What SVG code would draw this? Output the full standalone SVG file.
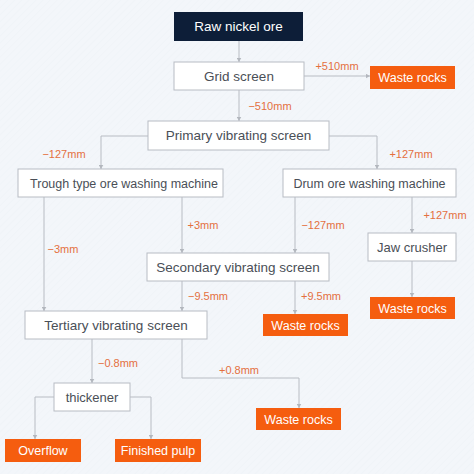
<svg xmlns="http://www.w3.org/2000/svg" width="474" height="474" viewBox="0 0 474 474">
<defs>
<marker id="arr" markerUnits="userSpaceOnUse" markerWidth="5" markerHeight="5" refX="4.5" refY="2.5" orient="auto">
<path d="M0,0 L4.5,2.5 L0,5 z" fill="#b3b7be"/>
</marker>
<pattern id="hatch" width="5" height="5" patternUnits="userSpaceOnUse" patternTransform="rotate(45)">
<rect width="5" height="5" fill="#f3f6fa"/>
<line x1="0" y1="0" x2="0" y2="5" stroke="#eef2f7" stroke-width="1"/>
</pattern>
</defs>
<style>
.box{fill:#ffffff;stroke:#b8bcc3;stroke-width:1}
.dark{fill:#0d1e38}
.org{fill:#f55d0f}
.t{font-family:"Liberation Sans","Noto Sans",Arial,sans-serif;font-size:13px;fill:#4a4f57;text-anchor:middle}
.tw{font-family:"Liberation Sans","Noto Sans",Arial,sans-serif;font-size:12.5px;fill:#ffffff;text-anchor:middle}
.lb{font-family:"Liberation Sans","Noto Sans",Arial,sans-serif;font-size:11px;fill:#e4703f;text-anchor:middle}
.c{fill:none;stroke:#b8bcc3;stroke-width:1;marker-end:url(#arr)}
</style>
<rect width="474" height="474" fill="url(#hatch)"/>

<g id="connectors">
<path class="c" d="M239,41 V62"/>
<path class="c" d="M304,76 H370"/>
<path class="c" d="M239,90 V121"/>
<path class="c" d="M148,136 H101 V169"/>
<path class="c" d="M329,136 H377 V169"/>
<path class="c" d="M44,197 V311"/>
<path class="c" d="M182,197 V253"/>
<path class="c" d="M295,197 V253"/>
<path class="c" d="M412,197 V233"/>
<path class="c" d="M412,261 V297"/>
<path class="c" d="M182,281 V311"/>
<path class="c" d="M295,281 V314"/>
<path class="c" d="M92,339 V383"/>
<path class="c" d="M182,339 V378 H299 V408"/>
<path class="c" d="M54,397 H35 V439"/>
<path class="c" d="M130,397 H151 V439"/>
</g>

<g id="labels">
<text class="lb" x="337" y="69.5">+510mm</text>
<text class="lb" x="270" y="110">−510mm</text>
<text class="lb" x="64" y="158">−127mm</text>
<text class="lb" x="411" y="158">+127mm</text>
<text class="lb" x="203" y="229">+3mm</text>
<text class="lb" x="63" y="253">−3mm</text>
<text class="lb" x="323" y="229">−127mm</text>
<text class="lb" x="445" y="219">+127mm</text>
<text class="lb" x="208" y="299.5">−9.5mm</text>
<text class="lb" x="321" y="299.5">+9.5mm</text>
<text class="lb" x="118" y="367">−0.8mm</text>
<text class="lb" x="239" y="374">+0.8mm</text>
</g>

<g id="raw-ore"><rect class="dark" x="174" y="12" width="129" height="29"/><text class="t" style="fill:#fff;font-size:13.5px" x="238.5" y="31">Raw nickel ore</text></g>
<g id="grid-screen"><rect class="box" x="174" y="62" width="130" height="28"/><text class="t" style="font-size:13.5px" x="239" y="81">Grid screen</text></g>
<g id="waste1"><rect class="org" x="370" y="66" width="85" height="23"/><text class="tw" x="412.5" y="82">Waste rocks</text></g>
<g id="primary"><rect class="box" x="148" y="121" width="181" height="29"/><text class="t" style="font-size:13.5px" x="238.5" y="140">Primary vibrating screen</text></g>
<g id="trough"><rect class="box" x="18" y="169" width="205" height="28"/><text class="t" style="font-size:12.5px" x="124" y="187.5">Trough type ore washing machine</text></g>
<g id="drum"><rect class="box" x="283" y="169" width="173" height="28"/><text class="t" style="font-size:12.5px" x="369.5" y="187.5">Drum ore washing machine</text></g>
<g id="jaw"><rect class="box" x="368" y="233" width="88" height="28"/><text class="t" x="412" y="251.5">Jaw crusher</text></g>
<g id="secondary"><rect class="box" x="147" y="253" width="182" height="28"/><text class="t" style="font-size:13.5px" x="238" y="271.5">Secondary vibrating screen</text></g>
<g id="waste2"><rect class="org" x="370" y="297" width="85" height="22"/><text class="tw" x="412.5" y="312.5">Waste rocks</text></g>
<g id="waste3"><rect class="org" x="263" y="314" width="85" height="22"/><text class="tw" x="305.5" y="329.5">Waste rocks</text></g>
<g id="tertiary"><rect class="box" x="25" y="311" width="182" height="28"/><text class="t" style="font-size:13.5px" x="116" y="329.5">Tertiary vibrating screen</text></g>
<g id="thickener"><rect class="box" x="54" y="383" width="76" height="28"/><text class="t" x="92" y="401.5">thickener</text></g>
<g id="waste4"><rect class="org" x="256" y="408" width="85" height="22"/><text class="tw" x="298.5" y="423.5">Waste rocks</text></g>
<g id="overflow"><rect class="org" x="5" y="439" width="76" height="23"/><text class="tw" x="43" y="455">Overflow</text></g>
<g id="pulp"><rect class="org" x="115" y="439" width="86" height="23"/><text class="tw" x="158" y="455">Finished pulp</text></g>
</svg>
